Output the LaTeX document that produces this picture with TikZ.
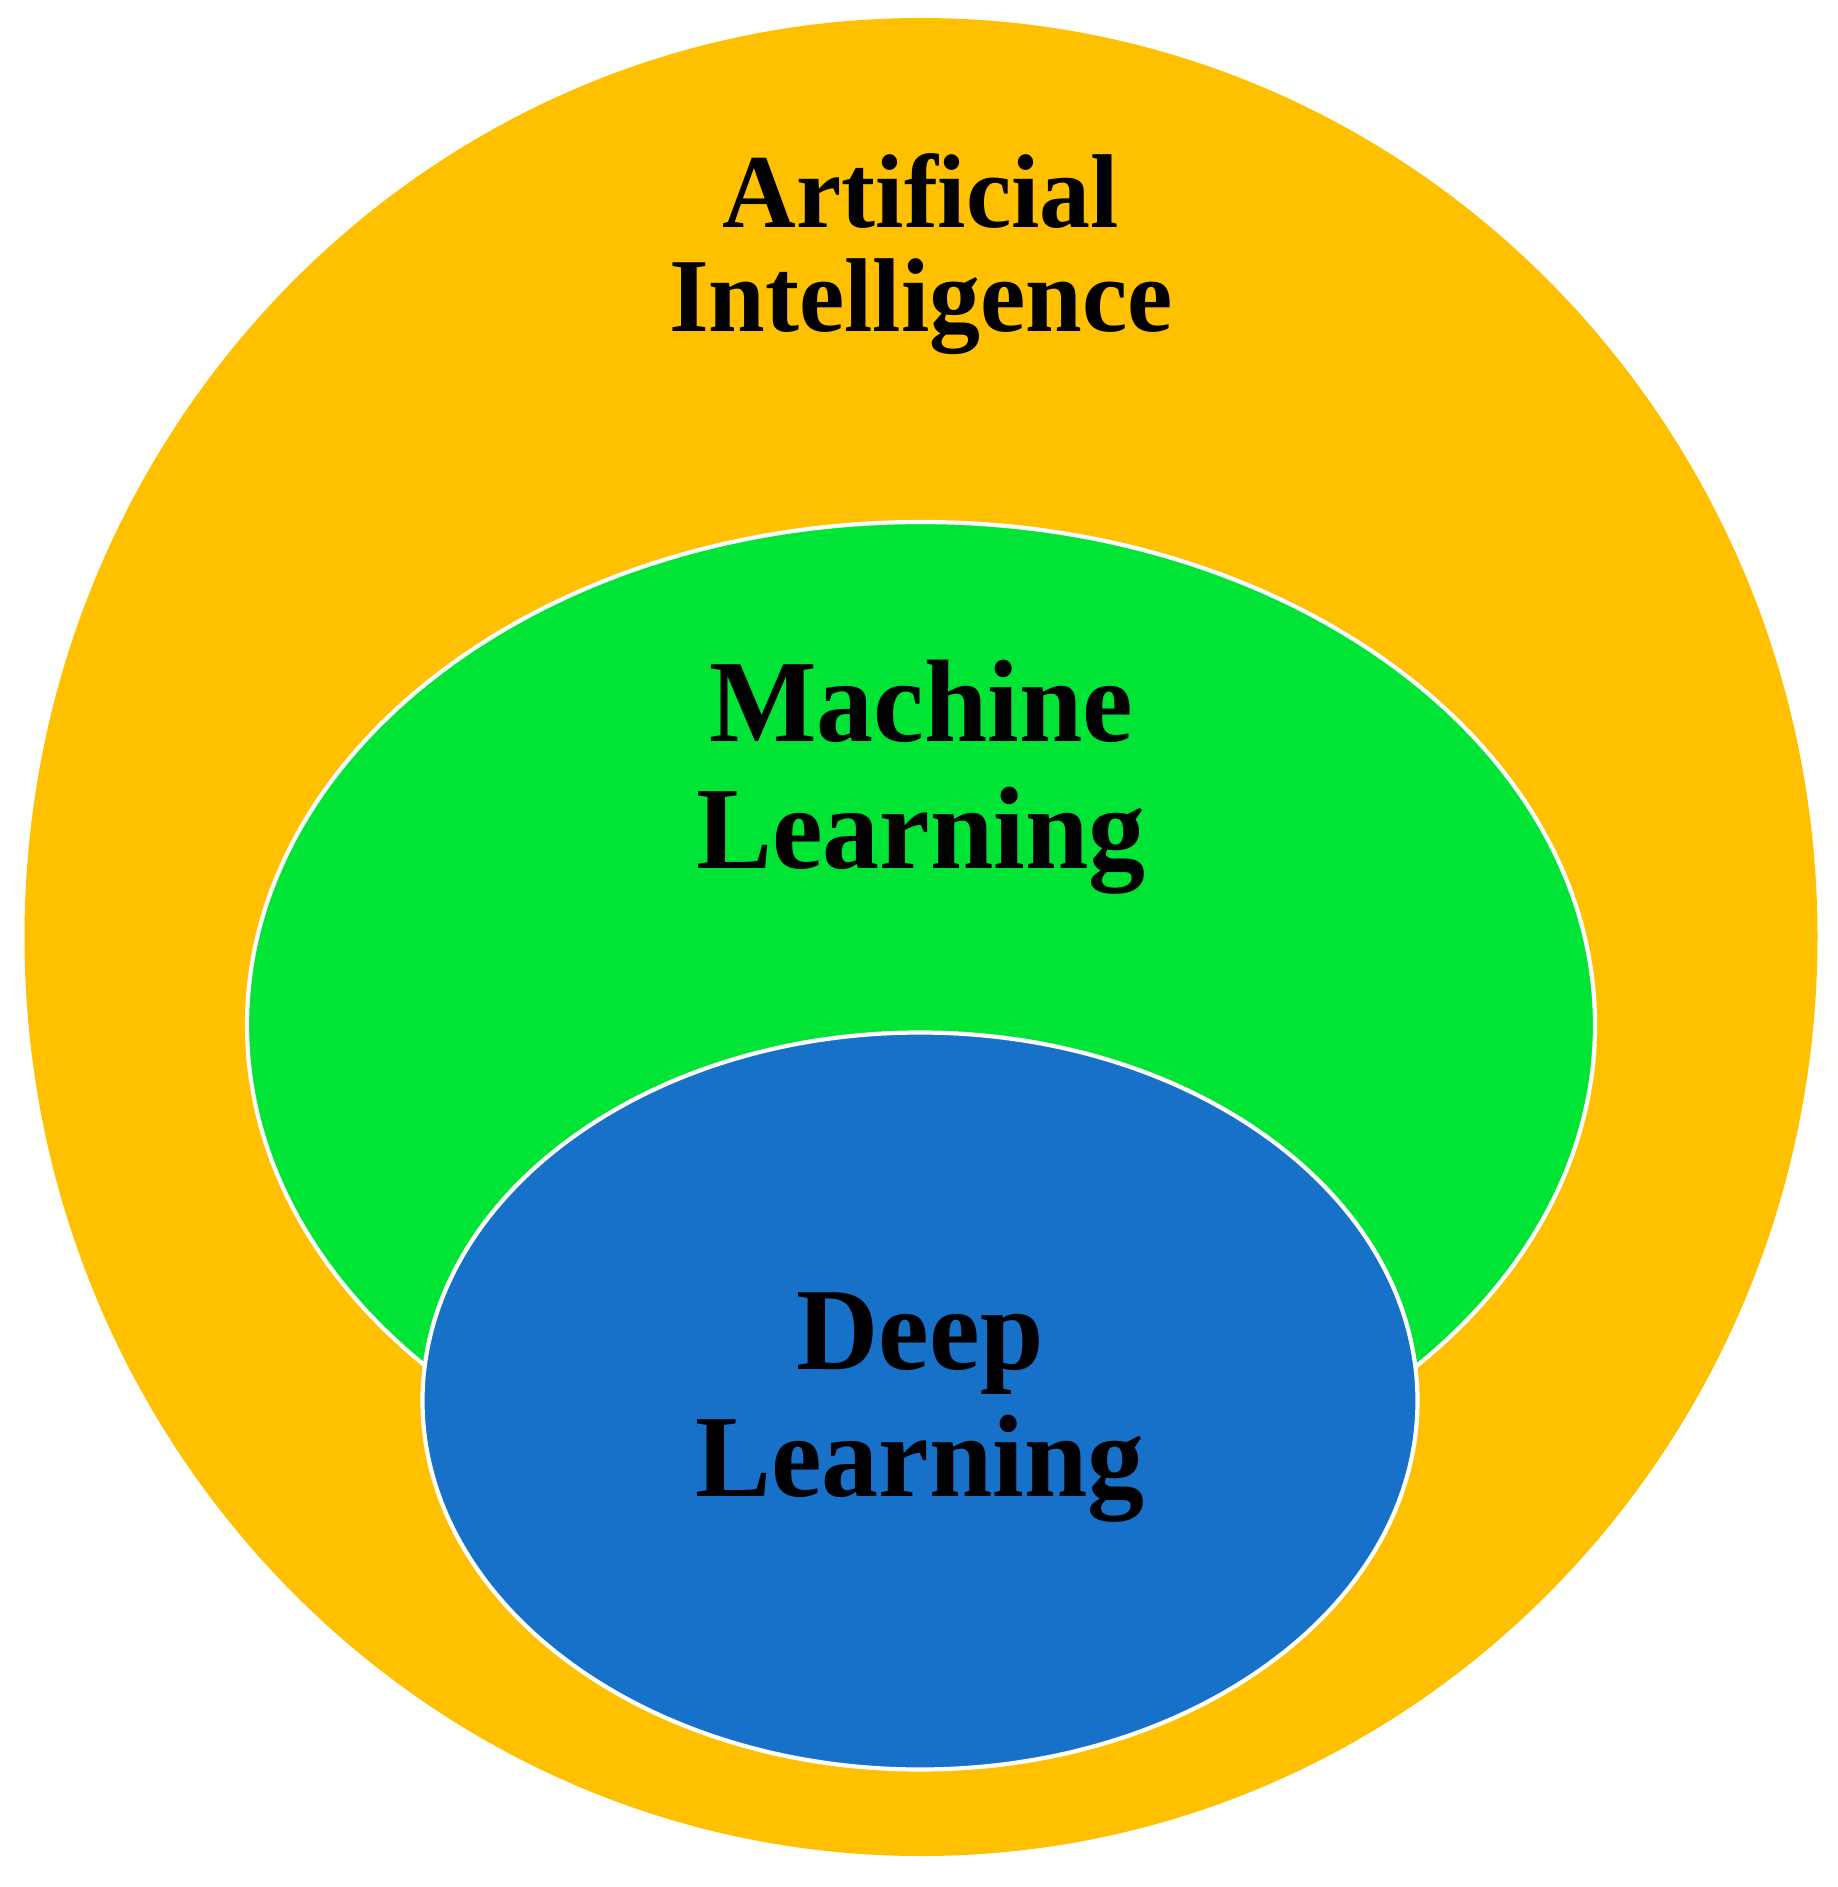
\documentclass[tikz,border=0pt]{standalone}
\usepackage{fontspec}
\setmainfont{Liberation Serif}
\usetikzlibrary{shapes,positioning}

\definecolor{aigold}{HTML}{FFC000}
\definecolor{mlgreen}{HTML}{00E436}
\definecolor{dlblue}{HTML}{1771C9}

\begin{document}
\begin{tikzpicture}[node distance = 1cm, auto]
  \tikzstyle{ring} = [ellipse, inner sep=0pt, outer sep=0pt, draw=white, line width=1.2pt]
  \tikzstyle{word} = [align=center, inner sep=0pt, outer sep=0pt, text=black, yscale=1.03, transform shape]
  \useasboundingbox (0,0) rectangle (18.38,-18.87);
  % Place sets
  \node [ring, draw=none, fill=aigold, minimum width=17.93cm, minimum height=18.38cm] (ai) at (9.21,-9.37) {};
  \node [ring, fill=mlgreen, minimum width=13.48cm, minimum height=10.06cm] (ml) at (9.21,-10.25) {};
  \node [ring, fill=dlblue, minimum width=9.95cm, minimum height=7.37cm] (dl) at (9.20,-14.01) {};
  % Place texts
  \node [word, font=\fontsize{29}{28.7}\selectfont\bfseries, below=1.36cm of ai.north] (ai-text) {Artificial\\Intelligence};
  \node [word, font=\fontsize{32.4}{35}\selectfont\bfseries, below=1.38cm of ml.north] (ml-text) {Machine\\Learning};
  \node [word, font=\fontsize{32.4}{35}\selectfont\bfseries, below=2.6cm of dl.north] (dl-text) {Deep\\Learning};
\end{tikzpicture}
\end{document}
